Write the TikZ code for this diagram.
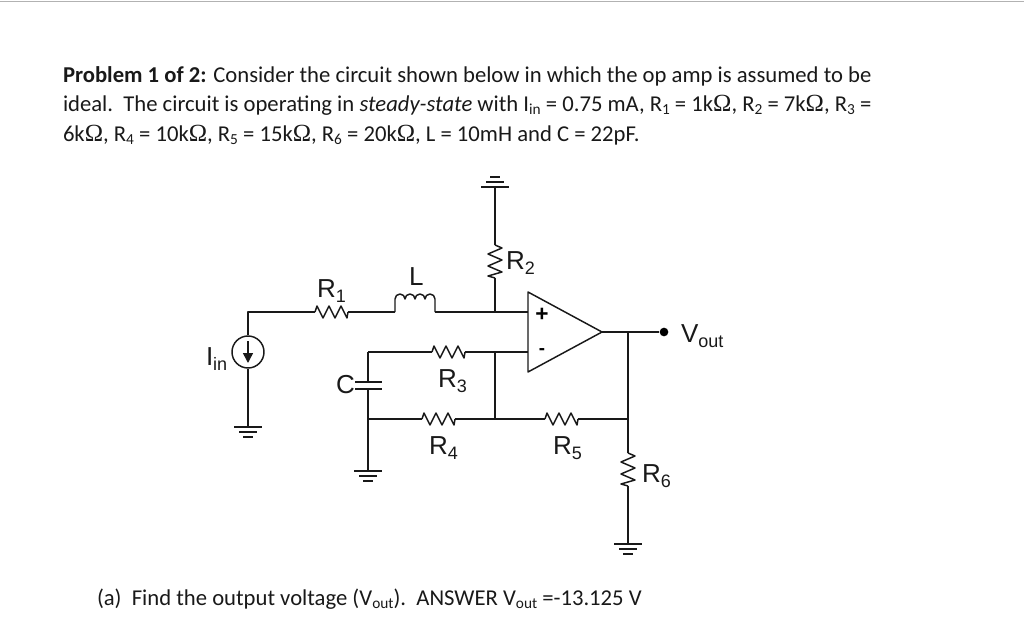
\documentclass[tikz,border=0pt]{standalone}
\usepackage{fontspec}
\setmainfont{Carlito}
\newfontfamily\cirfont{Liberation Sans}
\newfontfamily\omfont{Liberation Serif}
\usetikzlibrary{arrows.meta}
\newcommand{\tsub}[1]{\raisebox{-0.15em}{\fontsize{11.5pt}{12pt}\selectfont #1}}
\newcommand{\csub}[1]{\raisebox{-0.2em}{\fontsize{13.5pt}{14pt}\selectfont #1}}
\newcommand{\ohm}{{\omfont\fontsize{18.5pt}{18pt}\selectfont Ω}}
\tikzset{
  x=0.75pt,y=-0.75pt,
  wire/.style={draw=black!90,line width=1.1pt,line join=round},
  txt/.style={anchor=base west,inner sep=0pt,outer sep=0pt,font=\fontsize{17pt}{20pt}\selectfont,text=black!90},
  cir/.style={anchor=base west,inner sep=0pt,outer sep=0pt,font=\cirfont\fontsize{19.5pt}{22pt}\selectfont,text=black!90},
  hres/.pic={\draw[wire] (0,0)--(2,-6)--(8,6)--(14,-6)--(20,6)--(26,-6)--(32,6)--(33,0);},
  vres/.pic={\draw[wire] (0,0)--(7,3)--(-7,9)--(7,15)--(-7,21)--(7,27)--(-7,31)--(0,33);},
  gnd/.pic={\draw[wire] (-14,0)--(14,0) (-9,5)--(9,5) (-5,10)--(5,10);},
  gndup/.pic={\draw[wire] (-14,0)--(14,0) (-9,-5)--(9,-5) (-5,-10)--(5,-10);},
}
\begin{document}
\begin{tikzpicture}
\useasboundingbox (0,0) rectangle (1024,628);
\draw[black!30,line width=0.8pt] (0,1.5)--(1024,1.5);
% text
\node[txt] (t1) at (63,82) {\textbf{Problem 1 of 2:} Consider the circuit shown below in which the op amp is assumed to be};
\node[txt] (t2) at (63,111) {ideal.\ \ The circuit is operating in \textit{steady-state} with I\tsub{in} = 0.75 mA, R\tsub{1} = 1k\ohm, R\tsub{2} = 7k\ohm, R\tsub{3} =};
\node[txt] (t3) at (63,141) {6k\ohm, R\tsub{4} = 10k\ohm, R\tsub{5} = 15k\ohm, R\tsub{6} = 20k\ohm, L = 10mH and C = 22pF.};
\node[txt] (t4) at (97,605) {(a)\ \ Find the output voltage (V\tsub{out}).\ \ ANSWER V\tsub{out} =-13.125 V};
% coordinates
\node[circle,draw=black!90,line width=1.1pt,minimum size=24pt,inner sep=0pt] (src) at (248,352) {};
\coordinate (c1) at (248,312);
\coordinate (g1) at (248,427);
\coordinate (r1a) at (315,312); \coordinate (r1b) at (348,312);
\coordinate (la) at (395,312); \coordinate (lb) at (435,312);
\coordinate (ltl) at (395,299); \coordinate (ltr) at (435,299);
\coordinate (nin) at (495,312);
\coordinate (pin) at (528,312);
\coordinate (min) at (528,352);
\coordinate (r2a) at (495,245); \coordinate (r2b) at (495,278);
\coordinate (g2) at (495,187);
\coordinate (tl) at (528,292); \coordinate (bl) at (528,372); \coordinate (tip) at (602,332);
\coordinate (cn) at (628,332);
\node[circle,fill=black,inner sep=0pt,minimum size=6.5pt] (vo) at (664,332) {};
\coordinate (ct) at (368,352);
\coordinate (r3a) at (432,352); \coordinate (r3b) at (465,352);
\coordinate (nm) at (495,352);
\coordinate (pa) at (368,382); \coordinate (pb) at (368,389);
\coordinate (pal) at (355,382); \coordinate (par) at (382,382);
\coordinate (pbl) at (355,389); \coordinate (pbr) at (382,389);
\coordinate (cj) at (368,419);
\coordinate (g3) at (368,471);
\coordinate (r4a) at (422,419); \coordinate (r4b) at (455,419);
\coordinate (nf) at (495,419);
\coordinate (r5a) at (545,419); \coordinate (r5b) at (578,419);
\coordinate (nr) at (628,419);
\coordinate (r6a) at (628,453); \coordinate (r6b) at (628,486);
\coordinate (g4) at (628,544);
% wires
\draw[wire] (src.north)--(c1)--(r1a);
\draw[wire] (src.south)--(g1);
\draw[wire] (r1b)--(la);
\draw[wire] (lb)--(pin);
\draw[wire] (g2)--(r2a);
\draw[wire] (r2b)--(nin);
\draw[wire] (tl)--(bl)--(tip)--cycle;
\draw[wire] (tip)--(vo);
\draw[wire] (ct)--(r3a);
\draw[wire] (r3b)--(min);
\draw[wire] (ct)--(pa);
\draw[wire] (pb)--(g3);
\draw[wire] (pal)--(par);
\draw[wire] (pbl)--(pbr);
\draw[wire] (cj)--(r4a);
\draw[wire] (r4b)--(r5a);
\draw[wire] (r5b)--(nr);
\draw[wire] (nm)--(nf);
\draw[wire] (cn)--(r6a);
\draw[wire] (r6b)--(g4);
% inductor
\draw[wire] (la)--(ltl) arc[start angle=180,end angle=0,radius=3.75pt]
  arc[start angle=180,end angle=0,radius=3.75pt]
  arc[start angle=180,end angle=0,radius=3.75pt]
  arc[start angle=180,end angle=0,radius=3.75pt]--(lb);
% components
\pic at (r1a) {hres}; \pic at (r3a) {hres}; \pic at (r4a) {hres}; \pic at (r5a) {hres};
\pic at (r2a) {vres}; \pic at (r6a) {vres};
\pic at (g1) {gnd}; \pic at (g3) {gnd}; \pic at (g4) {gnd}; \pic at (g2) {gndup};
\draw[wire,-{Triangle[length=7.5pt,width=7.5pt]}] (248,341)--(248,363);
% labels
\node[cir] (lr1) at (317,297) {R\csub{1}};
\node[cir] (ll) at (409,285) {L};
\node[cir] (lin) at (206,365) {I\csub{in}};
\node[cir] (lc) at (336,393) {C};
\node[cir] (lr2) at (506,269) {R\csub{2}};
\node[cir] (lr3) at (438,387) {R\csub{3}};
\node[cir] (lr4) at (429,454) {R\csub{4}};
\node[cir] (lr5) at (553,454) {R\csub{5}};
\node[cir] (lr6) at (642,482) {R\csub{6}};
\node[cir] (lv) at (681,342) {V\csub{out}};
\node[anchor=center,inner sep=0pt,font=\cirfont\bfseries\fontsize{17pt}{17pt}\selectfont] (plus) at (542,315) {+};
\node[anchor=center,inner sep=0pt,font=\cirfont\bfseries\fontsize{14pt}{14pt}\selectfont] (minus) at (542,352) {-};
\end{tikzpicture}
\end{document}
